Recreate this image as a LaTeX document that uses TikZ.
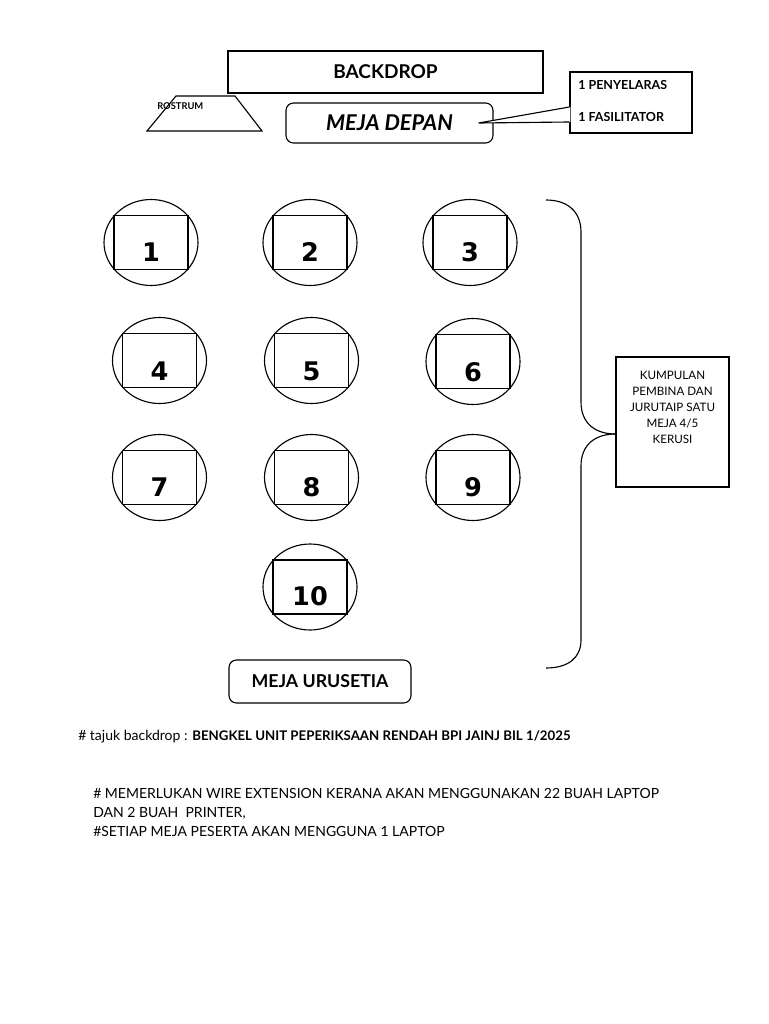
\documentclass[tikz,border=0pt]{standalone}
\usepackage{fontspec}
\setmainfont{Lato}
\newfontfamily\angkafont{DejaVu Sans}
\usepackage{tikz}
\usetikzlibrary{shapes.geometric}
\usetikzlibrary{positioning}
\tikzset{
    garis/.style={
           draw=black, line width=0.9pt,
           },
    papan/.style={
           rectangle,
           draw=black, line width=0.9pt,
           inner sep=0pt,
           text centered,
           },
    bucu/.style={
           rectangle,
           rounded corners=6pt,
           draw=black, line width=0.9pt,
           inner sep=0pt,
           text centered,
           },
    bulat/.style={
           ellipse,
           draw=black, line width=0.9pt,
           minimum width=75.2pt,
           minimum height=68.8pt,
           inner sep=0pt,
           },
    kotak/.style={
           rectangle,
           draw=black, line width=0.9pt,
           minimum width=59.2pt,
           minimum height=43.2pt,
           inner sep=0pt,
           },
    angka/.style={
           font=\angkafont\bfseries\fontsize{20.5}{23}\selectfont,
           inner sep=0pt,
           },
    nota/.style={
           anchor=base west,
           inner sep=0pt,
           font=\fontsize{11.2}{15}\selectfont,
           },
}

\begin{document}
\begin{tikzpicture}[x=0.8pt,y=-0.8pt]
        \useasboundingbox (0,0) rectangle (768,1024);

        % BACKDROP
        \node[papan,
            line width=1.6pt,
            minimum width=252pt,
            minimum height=33.6pt] (BACKDROP) at (385.5,72)
        {\fontsize{15.2}{18}\selectfont\bfseries BACKDROP};

        % ROSTRUM (trapezium drawn by hand)
        \draw[garis] (147,131) -- (176,96) -- (235,96) -- (262,131) -- cycle;
        \node[anchor=base west,
            inner sep=0pt,
            font=\bfseries\fontsize{7.5}{9}\selectfont] (ROSTRUM) at (157,110)
        {ROSTRUM};

        % MEJA DEPAN
        \node[bucu,
            minimum width=165.6pt,
            minimum height=32pt] (DEPAN) at (389.5,123)
        {\fontsize{17.4}{20}\selectfont\bfseries\itshape MEJA DEPAN};

        % PETUGAS callout
        \node[papan,
            minimum width=97.6pt,
            minimum height=48.8pt] (PETUGAS) at (631,102.5) {};
        \node[anchor=base west,
            inner sep=0pt,
            font=\bfseries\fontsize{10}{12}\selectfont] (PENYELARAS) at (578,90)
        {1 PENYELARAS};
        \node[anchor=base west,
            inner sep=0pt,
            font=\bfseries\fontsize{10}{12}\selectfont] (FASILITATOR) at (578,122)
        {1 FASILITATOR};
        \coordinate (hujung) at ([xshift=-12pt]DEPAN.east);
        \fill[white] ([yshift=-3.6pt]PETUGAS.west) -- (hujung) -- ([yshift=-15.6pt]PETUGAS.west)
            -- ([shift={(0.7pt,-15.6pt)}]PETUGAS.west) -- ([shift={(0.7pt,-3.6pt)}]PETUGAS.west) -- cycle;
        \draw[garis] ([yshift=-3.6pt]PETUGAS.west) -- (hujung) -- ([yshift=-15.6pt]PETUGAS.west);

        % MEJA 1 - 3
        \node[bulat] (B1) at (151,242.5) {};
        \node[kotak] (K1) at (B1) {};
        \node[angka, below of=K1, node distance=7.6pt] (A1) {1};
        \node[bulat] (B2) at (310,242.5) {};
        \node[kotak] (K2) at (B2) {};
        \node[angka, below of=K2, node distance=7.6pt] (A2) {2};
        \node[bulat] (B3) at (470,242.5) {};
        \node[kotak] (K3) at (B3) {};
        \node[angka, below of=K3, node distance=7.6pt] (A3) {3};

        % MEJA 4 - 6
        \node[bulat] (B4) at (159.5,360.5) {};
        \node[kotak] (K4) at (B4) {};
        \node[angka, below of=K4, node distance=8.4pt] (A4) {4};
        \node[bulat] (B5) at (311.5,360.5) {};
        \node[kotak] (K5) at (B5) {};
        \node[angka, below of=K5, node distance=8.4pt] (A5) {5};
        \node[bulat] (B6) at (473,361.5) {};
        \node[kotak] (K6) at (B6) {};
        \node[angka, below of=K6, node distance=8.4pt] (A6) {6};

        % MEJA 7 - 9
        \node[bulat] (B7) at (159.5,477.5) {};
        \node[kotak] (K7) at (B7) {};
        \node[angka, below of=K7, node distance=7.4pt] (A7) {7};
        \node[bulat] (B8) at (311.5,477.5) {};
        \node[kotak] (K8) at (B8) {};
        \node[angka, below of=K8, node distance=7.4pt] (A8) {8};
        \node[bulat] (B9) at (473,477.5) {};
        \node[kotak] (K9) at (B9) {};
        \node[angka, below of=K9, node distance=7.4pt] (A9) {9};

        % MEJA 10
        \node[bulat] (B10) at (310,587) {};
        \node[kotak] (K10) at (B10) {};
        \node[angka, below of=K10, node distance=7.4pt] (A10) {10};

        % KUMPULAN box with the brace
        \node[papan,
            minimum width=90.4pt,
            minimum height=104pt] (KUMPULAN) at (672.5,422) {};
        \node[anchor=north,
            align=center,
            inner sep=0pt,
            font=\fontsize{9.3}{12.8}\selectfont] (KUMPULANteks) at ([yshift=-11.8pt]KUMPULAN.north)
        {KUMPULAN\\PEMBINA DAN\\JURUTAIP SATU\\MEJA 4/5\\KERUSI};
        \coordinate (atas) at (546,200);
        \coordinate (bawah) at (546,668);
        \coordinate (tengah) at ([yshift=-9.6pt]KUMPULAN.west);
        \draw[garis] (atas) .. controls (568,200) and (581,212) .. (581,232) -- (581,402)
            .. controls (581,424) and (596,434) .. (tengah);
        \draw[garis] (tengah) .. controls (596,434) and (581,444) .. (581,466) -- (581,640)
            .. controls (581,658) and (568,668) .. (bawah);

        % MEJA URUSETIA
        \node[bucu,
            minimum width=145.6pt,
            minimum height=34.4pt] (URUSETIA) at (320,681.5)
        {\fontsize{14.2}{17}\selectfont\bfseries MEJA URUSETIA};

        % notes below the plan
        \node[nota] (TAJUK) at (78,740)
        {\# tajuk backdrop : {\bfseries\fontsize{10.6}{15}\selectfont BENGKEL UNIT PEPERIKSAAN RENDAH BPI JAINJ BIL 1/2025}};
        \node[nota] (NOTA1) at (93,798)
        {\# MEMERLUKAN WIRE EXTENSION KERANA AKAN MENGGUNAKAN 22 BUAH LAPTOP};
        \node[nota] (NOTA2) at (93,817)
        {DAN 2 BUAH~ PRINTER,};
        \node[nota] (NOTA3) at (93,836)
        {\#SETIAP MEJA PESERTA AKAN MENGGUNA 1 LAPTOP};

\end{tikzpicture}
\end{document}
